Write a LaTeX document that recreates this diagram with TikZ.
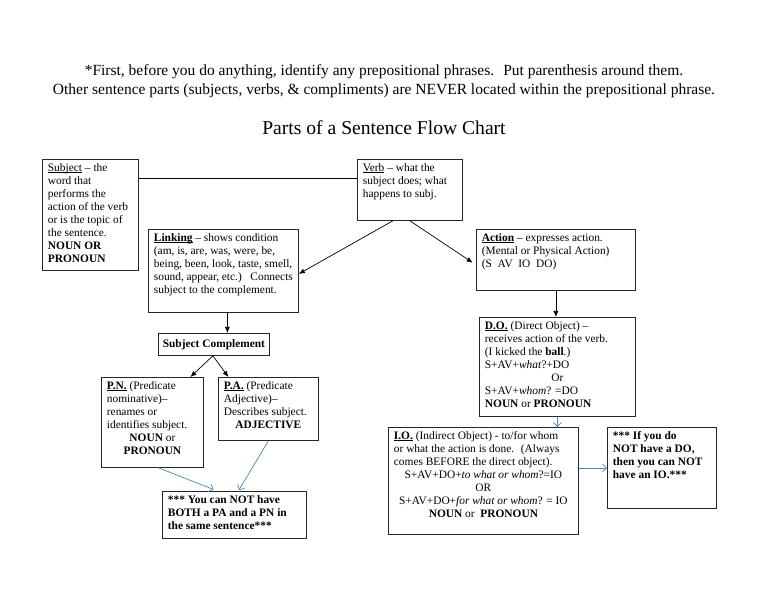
\documentclass[tikz,border=0pt]{standalone}
\usepackage{fontspec}
\setmainfont{Liberation Serif}
\usetikzlibrary{arrows.meta}

\definecolor{hintBlue}{RGB}{79,129,189}
\newcommand{\boxFont}{\fontsize{11.4}{13}\selectfont}
\newcommand{\boxText}[3]{\parbox[t][#2][t]{#1}{#3}}
\newcommand{\uLine}[1]{\leavevmode\setbox0\hbox{#1}\rlap{\rule[-1.4pt]{\wd0}{0.5pt}}\box0\relax}

\tikzset{
  part/.style={draw=black!85, line width=0.8pt, anchor=north west, inner xsep=5.5pt, inner ysep=4pt, font=\boxFont},
  flow/.style={-{Latex[length=6pt, width=5pt]}, line width=0.7pt},
  hint/.style={-{Straight Barb[length=4pt, width=8pt]}, draw=hintBlue, line width=0.7pt}
}

\begin{document}
\begin{tikzpicture}[x=1pt, y=-1pt]
  \useasboundingbox (0,0) rectangle (768,593);

  % Heading
  \node[align=center, font=\fontsize{15.5}{19}\selectfont] (note) at (384,81)
    {*First, before you do anything, identify any prepositional phrases.~ Put parenthesis around them.\\
     Other sentence parts (subjects, verbs, \& compliments) are NEVER located within the prepositional phrase.};
  \node[font=\fontsize{19.6}{23}\selectfont] (title) at (384,128) {Parts of a Sentence Flow Chart};

  % Top row
  \node[part] (subj) at (42,159) {\boxText{85pt}{103pt}{\uLine{Subject} – the\\ word that\\ performs the\\ action of the verb\\ or is the topic of\\ the sentence.\\ \textbf{NOUN OR}\\ \textbf{PRONOUN}}};
  \node[part] (verb) at (357,159) {\boxText{94pt}{53pt}{\uLine{Verb} – what the\\ subject does; what\\ happens to subj.}};
  \node[part] (link) at (148,229) {\boxText{139pt}{75pt}{\uLine{\textbf{Linking}} – shows condition\\ (am, is, are, was, were, be,\\ being, been, look, taste, smell,\\ sound, appear, etc.)~~ Connects\\ subject to the complement.}};
  \node[part] (action) at (476,229) {\boxText{148pt}{53pt}{\uLine{\textbf{Action}} – expresses action.\\ (Mental or Physical Action)\\ (S~~AV~~IO~~DO)}};

  % Linking side
  \node[part, minimum width=111pt, minimum height=22pt, inner sep=2pt] (comp) at (158,333) {\textbf{Subject Complement}};
  \node[part] (pn) at (101,377) {\boxText{91pt}{82pt}{\uLine{\textbf{P.N.}} (Predicate\\ nominative)–\\ renames or\\ identifies subject.\par
    {\centering\textbf{NOUN} or\\ \textbf{PRONOUN}\par}}};
  \node[part] (pa) at (218,377) {\boxText{89pt}{55pt}{\uLine{\textbf{P.A.}} (Predicate\\ Adjective)–\\ Describes subject.\par
    {\centering\textbf{ADJECTIVE}\par}}};
  \node[part] (both) at (162,491) {\boxText{133pt}{39pt}{\textbf{*** You can NOT have\\ BOTH a PA and a PN in\\ the same sentence***}}};

  % Action side
  \node[part] (dobj) at (479,317) {\boxText{145pt}{91pt}{\uLine{\textbf{D.O.}} (Direct Object) –\\ receives action of the verb.\\ (I kicked the \textbf{ball}.)\\ S+AV+\textit{what}?+DO\par
    {\centering Or\par}
    S+AV+\textit{whom}? =DO\\ \textbf{NOUN} or \textbf{PRONOUN}}};
  \node[part] (iobj) at (388,427) {\boxText{179pt}{99pt}{\uLine{\textbf{I.O.}} (Indirect Object) - to/for whom\\ or what the action is done.~ (Always\\ comes BEFORE the direct object).\par
    {\centering S+AV+DO+\textit{to what or whom}?=IO\\ OR\\ S+AV+DO+\textit{for what or whom}? = IO\\ \textbf{NOUN} or~ \textbf{PRONOUN}\par}}};
  \node[part] (nodo) at (607,427) {\boxText{98pt}{73pt}{\textbf{*** If you do\\ NOT have a DO,\\ then you can NOT\\ have an IO.***}}};

  % Connectors
  \draw[line width=0.7pt] ([yshift=-19pt]subj.north east) -- ([yshift=-19pt]verb.north west);
  \draw[flow] ([xshift=-17pt]verb.south) -- ([yshift=-3pt]link.east);
  \draw[flow, shorten >=4pt] (verb.south) -- ([yshift=-5pt]action.west);
  \draw[flow] (action.south) -- (action.south |- dobj.north);
  \draw[flow] ([xshift=4pt]link.south) -- ([xshift=4pt]link.south |- comp.north);
  \draw[flow] ([xshift=-1pt]comp.south) -- ([xshift=38pt]pn.north);
  \draw[flow] ([xshift=-1pt]comp.south) -- ([xshift=-40pt]pa.north);
  \draw[hint, shorten >=4pt] ([xshift=6pt]pn.south) -- ([xshift=-17pt]both.north);
  \draw[hint, shorten >=1pt] (pa.south) -- ([xshift=4pt]both.north);
  \draw[hint] (dobj.south) -- (dobj.south |- iobj.north);
  \draw[hint] (iobj.east |- nodo.west) -- (nodo.west);
\end{tikzpicture}
\end{document}
